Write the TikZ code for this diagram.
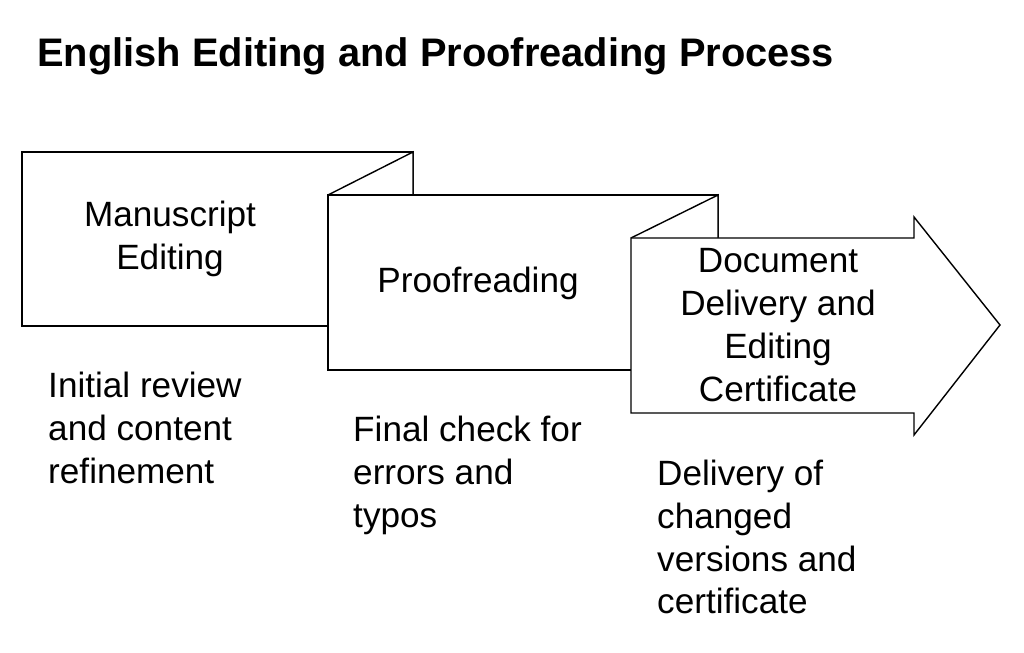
\documentclass[tikz,border=0pt]{standalone}
\usepackage{fontspec}
\setmainfont{Liberation Sans}
\begin{document}
\begin{tikzpicture}[x=0.03cm,y=-0.03cm,
  shp/.style={draw=black,line width=1.2pt,fill=white,line join=miter},
  lbl/.style={font=\fontsize{30}{36.5}\selectfont,align=center},
  desc/.style={font=\fontsize{30}{36.5}\selectfont,align=left,anchor=north west,inner sep=0pt}]
\useasboundingbox (0,0) rectangle (1024,653);
\node[anchor=west,inner sep=0pt,font=\fontsize{34}{40}\selectfont\bfseries] (title) at (37,56) {English Editing and Proofreading Process};
% box 1
\draw[shp] (22,152) rectangle (413,326);
% box 2
\draw[shp] (328,195) -- (413,152) -- (413,195);
\draw[shp] (328,195) rectangle (718,370);
% box 3 arrow
\draw[shp] (631,238) -- (718,195) -- (718,238);
\draw[shp] (631,238) -- (914,238) -- (914,217) -- (1000,325) -- (914,435) -- (914,413) -- (631,413) -- cycle;
\node[lbl] (m) at (170,239) {Manuscript\\Editing};
\node[lbl] (p) at (478,283) {Proofreading};
\node[lbl] (d) at (778,325) {Document\\Delivery and\\Editing\\Certificate};
\node[desc] (d1) at (48,372) {Initial review\\and content\\refinement};
\node[desc] (d2) at (353,416) {Final check for\\errors and\\typos};
\node[desc] (d3) at (657,460) {Delivery of\\changed\\versions and\\certificate};
\end{tikzpicture}
\end{document}
